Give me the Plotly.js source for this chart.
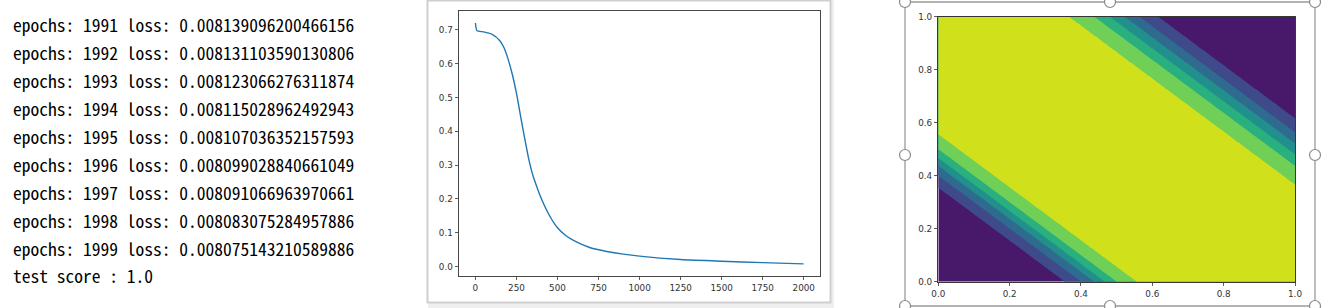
<!DOCTYPE html>
<html>
<head>
<meta charset="utf-8">
<script src="https://cdn.plot.ly/plotly-3.0.1.min.js"></script>
<style>
html,body{margin:0;padding:0;background:#fff;}
#chart{width:1334px;height:308px;}
</style>
</head>
<body>
<div id="chart"></div>
<script>
// ---------- console text data ----------
const consoleEpochs = [1991, 1992, 1993, 1994, 1995, 1996, 1997, 1998, 1999];
const consoleLosses = [
  "0.008139096200466156", "0.008131103590130806", "0.008123066276311874",
  "0.008115028962492943", "0.008107036352157593", "0.008099028840661049",
  "0.008091066963970661", "0.008083075284957886", "0.008075143210589886"
];
const testScore = "1.0";

// ---------- loss curve data ----------
const lossEpochs = [0, 10, 50, 100, 150, 175, 200, 225, 250, 275, 300, 325, 350, 375, 400,
                    450, 500, 550, 600, 700, 800, 900, 1000, 1250, 1500, 1750, 1999];
const lossValues = [0.720, 0.697, 0.694, 0.687, 0.667, 0.646, 0.612, 0.568, 0.513, 0.445, 0.380, 0.318, 0.270, 0.235, 0.203,
                    0.152, 0.115, 0.092, 0.077, 0.056, 0.045, 0.037, 0.031, 0.021, 0.016, 0.012, 0.0081];
const lossXTicks = [0, 250, 500, 750, 1000, 1250, 1500, 1750, 2000];
const lossYTicks = [0.0, 0.1, 0.2, 0.3, 0.4, 0.5, 0.6, 0.7];

// ---------- decision surface data ----------
const gridCoords = [0, 0.025, 0.05, 0.075, 0.1, 0.125, 0.15, 0.175, 0.2, 0.225, 0.25, 0.275, 0.3, 0.325,
  0.35, 0.375, 0.4, 0.425, 0.45, 0.475, 0.5, 0.525, 0.55, 0.575, 0.6, 0.625, 0.65, 0.675, 0.7, 0.725,
  0.75, 0.775, 0.8, 0.825, 0.85, 0.875, 0.9, 0.925, 0.95, 0.975, 1.0];
// predicted probability read along x+y (index k -> x+y = 0.025*k)
const diagProfile = [
  0.010, 0.011, 0.012, 0.013, 0.015, 0.017, 0.019, 0.022, 0.026, 0.031,
  0.037, 0.046, 0.060, 0.090, 0.135, 0.210, 0.300, 0.390, 0.515, 0.640,
  0.750, 0.830, 0.890, 0.930, 0.950, 0.960, 0.966, 0.970, 0.973, 0.975,
  0.977, 0.978, 0.979, 0.980, 0.980, 0.980, 0.980, 0.980, 0.979, 0.978,
  0.977, 0.976, 0.975, 0.973, 0.971, 0.969, 0.966, 0.963, 0.960, 0.957,
  0.953, 0.949, 0.945, 0.940, 0.920, 0.890, 0.840, 0.790, 0.710, 0.620,
  0.530, 0.440, 0.350, 0.260, 0.190, 0.130, 0.090, 0.065, 0.050, 0.040,
  0.033, 0.028, 0.024, 0.021, 0.019, 0.017, 0.015, 0.014, 0.013, 0.012,
  0.011
];
const surfTicks = [0.0, 0.2, 0.4, 0.6, 0.8, 1.0];
const bandColors = ['#48186a', '#3e4a89', '#2f6b8e', '#21908d', '#2ab07f', '#70cf57', '#d0e11c'];

const zGrid = gridCoords.map((_, j) => gridCoords.map((__, i) => diagProfile[i + j]));

// ---------- helpers for pixel placement ----------
const W = 1334, H = 308;
const fx = p => p / W;
const fy = p => 1 - p / H;

// ---------- console text as annotations ----------
const lines = consoleEpochs.map((e, i) => 'epochs: ' + e + ' loss: ' + consoleLosses[i]);
lines.push('test score : ' + testScore);
const textLeft = 12.3, firstMid = 24.8, lineStep = 27.9;
const annotations = lines.map((t, k) => ({
  text: t, showarrow: false, xref: 'paper', yref: 'paper',
  x: fx(textLeft), y: fy(firstMid + k * lineStep),
  xanchor: 'left', yanchor: 'middle', borderpad: 0,
  font: {family: 'Noto Sans Mono CJK KR', size: 17.5, color: '#000'}
}));

// ---------- traces ----------
const traces = [
  {
    type: 'scatter', mode: 'lines', x: lossEpochs, y: lossValues,
    line: {color: '#1f77b4', width: 1.4, shape: 'spline', smoothing: 0.6},
    xaxis: 'x', yaxis: 'y', hoverinfo: 'skip'
  },
  {
    type: 'contour', x: gridCoords, y: gridCoords, z: zGrid,
    xaxis: 'x2', yaxis: 'y2', autocontour: false,
    contours: {start: 0.15, end: 0.9, size: 0.15, coloring: 'fill', showlines: false},
    line: {width: 0},
    colorscale: bandColors.map((c, i) => [i / (bandColors.length - 1), c]),
    showscale: false, hoverinfo: 'skip'
  }
];

const tickFont = {family: 'DejaVu Sans', size: 8.8, color: '#333'};
const axisCommon = {
  showgrid: false, zeroline: false, showline: true, mirror: true,
  linecolor: '#333', linewidth: 0.9, ticks: 'outside', ticklen: 3.5,
  tickwidth: 0.8, tickcolor: '#333', tickfont: tickFont, fixedrange: true
};

const layout = {
  width: W, height: H,
  margin: {l: 0, r: 0, t: 0, b: 0, pad: 0},
  paper_bgcolor: '#fff', plot_bgcolor: 'rgba(0,0,0,0)',
  showlegend: false,
  xaxis: Object.assign({}, axisCommon, {
    domain: [fx(459), fx(820)], range: [-99.95, 2098.95], tickvals: lossXTicks,
    ticktext: lossXTicks.map(String), anchor: 'y'
  }),
  yaxis: Object.assign({}, axisCommon, {
    domain: [fy(276), fy(11)], range: [-0.0276, 0.7556], tickvals: lossYTicks,
    ticktext: lossYTicks.map(v => v.toFixed(1)), anchor: 'x'
  }),
  xaxis2: Object.assign({}, axisCommon, {
    domain: [fx(938.3), fx(1295)], range: [0, 1], tickvals: surfTicks,
    ticktext: surfTicks.map(v => v.toFixed(1)), anchor: 'y2', linecolor: '#222'
  }),
  yaxis2: Object.assign({}, axisCommon, {
    domain: [fy(281.7), fy(16.7)], range: [0, 1], tickvals: surfTicks,
    ticktext: surfTicks.map(v => v.toFixed(1)), anchor: 'x2', linecolor: '#222'
  }),
  annotations: annotations,
  shapes: [
    {type: 'rect', xref: 'paper', yref: 'paper', x0: fx(428), x1: fx(834), y0: fy(308), y1: fy(0),
     fillcolor: '#efefef', line: {width: 0}, layer: 'below'},
    {type: 'rect', xref: 'paper', yref: 'paper', x0: fx(427.5), x1: fx(830.5), y0: fy(302.5), y1: fy(0.5),
     fillcolor: '#fff', line: {color: '#cfcfcf', width: 2}, layer: 'below'},
    {type: 'rect', xref: 'paper', yref: 'paper', x0: fx(905), x1: fx(1315), y0: fy(306), y1: fy(2),
     line: {color: '#9a9a9a', width: 1.3}, layer: 'above'}
  ]
};
[[905, 2], [1110, 2], [1315, 2], [905, 155], [1315, 155], [905, 306], [1110, 306], [1315, 306]].forEach(([cx, cy]) => {
  layout.shapes.push({type: 'circle', xref: 'paper', yref: 'paper',
    x0: fx(cx - 5.5), x1: fx(cx + 5.5), y0: fy(cy + 5.5), y1: fy(cy - 5.5),
    fillcolor: '#fff', line: {color: '#8a8a8a', width: 1.2}, layer: 'above'});
});

Plotly.newPlot('chart', traces, layout, {displayModeBar: false, staticPlot: true});
</script>
</body>
</html>
